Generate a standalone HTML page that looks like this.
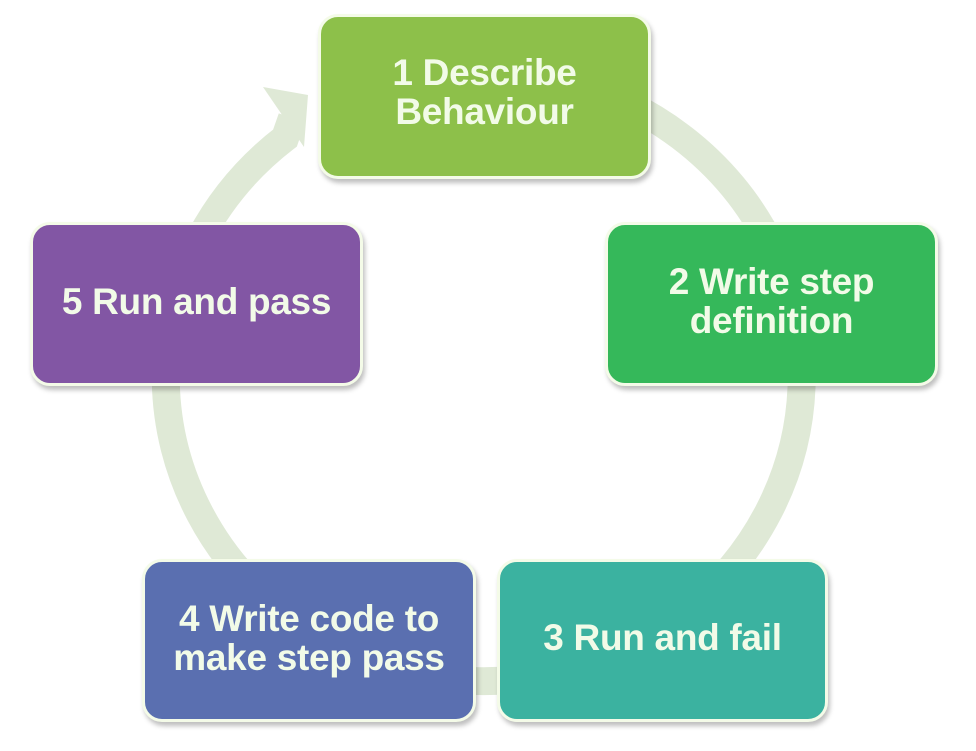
<!DOCTYPE html>
<html><head><meta charset="utf-8"><style>
body{margin:0;width:976px;height:751px;background:#fff;position:relative;overflow:hidden;font-family:"Liberation Sans",Arial,sans-serif}
svg{position:absolute;left:0;top:0}
.b{position:absolute;box-sizing:border-box;border:3px solid #f4fbe8;border-radius:20px;box-shadow:2px 4px 5px rgba(0,0,0,0.25);color:#f2fbe8;font-weight:bold;font-size:37px;line-height:39px;letter-spacing:-0.3px;display:flex;align-items:center;justify-content:center;text-align:center;padding-bottom:6px}
</style></head><body>
<svg width="976" height="751">
<path d="M 292 118 L 285 138 A 318 305 0 1 0 560 80" fill="none" stroke="#dfe9d6" stroke-width="28"/>
<polygon points="263,87 308,95 304,147" fill="#dfe9d6"/>
</svg>
<div class="b" style="left:318px;top:14px;width:333px;height:165px;background:#8dc04a;padding-bottom:10px">1 Describe<br>Behaviour</div>
<div class="b" style="left:605px;top:222px;width:333px;height:164px;background:#35b85a">2 Write step<br>definition</div>
<div class="b" style="left:497px;top:559px;width:331px;height:163px;background:#3bb2a0">3 Run and fail</div>
<div class="b" style="left:142px;top:559px;width:334px;height:163px;background:#5a6fb0">4 Write code to<br>make step pass</div>
<div class="b" style="left:30px;top:222px;width:333px;height:164px;background:#8256a4">5 Run and pass</div>
</body></html>
